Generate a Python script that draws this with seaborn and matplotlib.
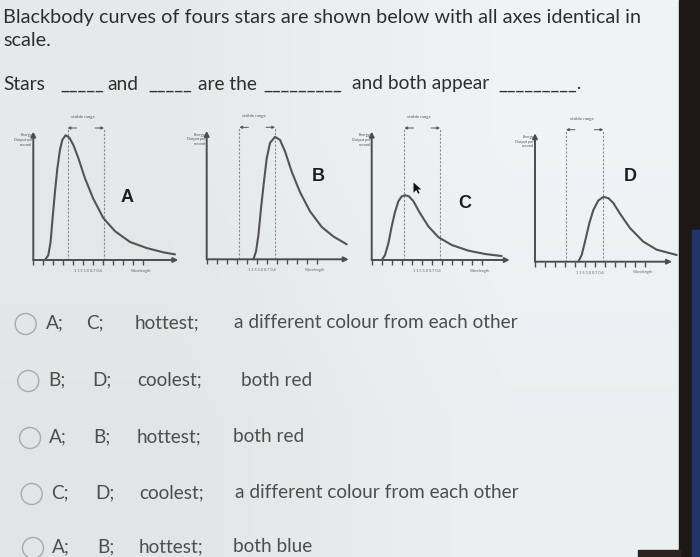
import matplotlib
matplotlib.use("Agg")
import matplotlib.pyplot as plt
import numpy as np
import pandas as pd
import seaborn as sns
from matplotlib.patches import Circle, Rectangle

W, H = 700, 557

# blackbody curves (x: tick units, y: fraction of y-axis height)
STARS = ["A", "B", "C", "D"]
A_WL = [1.17, 1.5, 1.73, 1.93, 2.17, 2.4, 2.67, 2.9, 3.23, 3.6, 4.0, 4.5, 5.17, 6.0,
        7.0, 8.17, 9.67, 11.33, 13.0, 14.17]
A_EN = [0.0, 0.04, 0.15, 0.35, 0.57, 0.76, 0.92, 1.0, 1.04, 1.02, 0.96, 0.85, 0.68, 0.51,
        0.35, 0.24, 0.15, 0.10, 0.064, 0.047]
B_WL = [4.67, 4.93, 5.17, 5.43, 5.73, 6.0, 6.33, 6.83, 7.33, 7.83, 8.5, 9.33, 10.33,
        11.5, 12.67, 14.0]
B_EN = [0.0, 0.065, 0.20, 0.425, 0.65, 0.84, 0.97, 1.02, 0.995, 0.90, 0.73, 0.56, 0.40,
        0.27, 0.19, 0.125]
C_WL = [1.0, 1.33, 1.67, 2.0, 2.33, 2.67, 3.0, 3.33, 3.73, 4.17, 4.83, 5.67, 6.67, 8.0,
        9.67, 11.33, 13.0]
C_EN = [0.0, 0.04, 0.14, 0.28, 0.40, 0.49, 0.53, 0.54, 0.53, 0.49, 0.39, 0.28, 0.19,
        0.125, 0.078, 0.05, 0.033]
D_WL = [4.33, 4.67, 5.0, 5.43, 5.83, 6.33, 6.83, 7.33, 7.83, 8.5, 9.5, 10.83, 12.17, 14.17]
D_EN = [0.0, 0.056, 0.167, 0.32, 0.43, 0.51, 0.54, 0.53, 0.49, 0.40, 0.28, 0.167, 0.10,
        0.056]
VIS_LO = [3.43, 3.27, 3.27, 3.1]
VIS_HI = [7.07, 6.83, 6.83, 6.83]
TICKS = list(range(12))
TICK_TEXT = "1 1.5 1.0 0.7 0.4"
XLABEL = "Wavelength"
YLABEL = "Energy\nOutput per\nsecond"
VIS_LABEL = "visible range"

QUESTION_1 = "Blackbody curves of fours stars are shown below with all axes identical in"
QUESTION_2 = "scale."
BLANK_LINE = ["Stars", "_____", "and", "_____", "are the", "_________", "and both appear", "_________."]

OPT_FIRST = ["A;", "B;", "A;", "C;", "A;"]
OPT_SECOND = ["C;", "D;", "B;", "D;", "B;"]
OPT_TEMP = ["hottest;", "coolest;", "hottest;", "coolest;", "hottest;"]
OPT_COLOUR = ["a different colour from each other", "both red", "both red",
              "a different colour from each other", "both blue"]

df = pd.concat([
    pd.DataFrame({"star": s, "wavelength": wl, "energy": en})
    for s, wl, en in zip(STARS, [A_WL, B_WL, C_WL, D_WL], [A_EN, B_EN, C_EN, D_EN])
])

# layout (pixels)
ORIGINS = [(33.3, 260), (206.7, 259.3), (371.7, 260), (535, 261.7)]
XEND = [14.5, 14.2, 13.8, 13.7]
LETTER_POS = [(9.4, 0.525), (11.2, 0.69), (9.33, 0.47), (9.5, 0.71)]
UX, UY = 10, 120
X_LO, X_HI, Y_LO, Y_HI = -1.0, 15.5, -0.25, 1.35

CURVE = "#555353"
AXIS = "#4d4d4d"
DASH = "#8c8c8c"
TXT = "#2f2f2f"
OPT_TXT = "#4e4e4e"

sns.set_theme(style="white")
plt.rcParams["font.family"] = ["Lato", "DejaVu Sans"]

fig = plt.figure(figsize=(W / 100, H / 100), dpi=100)
bg = fig.add_axes([0, 0, 1, 1])
bg.set_xlim(0, W)
bg.set_ylim(H, 0)
bg.axis("off")

grad = np.array([[[0.90, 0.915, 0.915], [0.935, 0.955, 0.96]],
                 [[0.885, 0.90, 0.90], [0.92, 0.94, 0.945]]])
bg.imshow(grad, extent=[0, 680, H, 0], aspect="auto", interpolation="bilinear", zorder=0)
bg.add_patch(Rectangle((679, 0), 21, H, color="#1d1816", zorder=1))
bg.add_patch(Rectangle((692, 230), 8, H - 230, color="#22346c", zorder=1))
bg.add_patch(Rectangle((638, 550), 42, 7, color="#2a2220", zorder=1))

# question text
bg.text(3, 17, QUESTION_1, fontsize=14.3, color=TXT, va="center", ha="left")
bg.text(3, 40, QUESTION_2, fontsize=14.3, color=TXT, va="center", ha="left")
for x, s in zip([3, 60, 107, 148, 198, 263, 352, 498], BLANK_LINE):
    bg.text(x, 84, s, fontsize=13.8, color=TXT, va="center", ha="left")

# answer options
ROW_Y = [324, 381, 438, 494, 548]
CIRCLE_X = [25.7, 28.3, 30, 31.7, 33]
COL_X = [[45.7, 86, 135, 234], [48, 92, 137, 241], [49, 93, 137, 233],
         [51, 95, 139, 235], [52, 97, 139, 233]]
for i, y in enumerate(ROW_Y):
    bg.add_patch(Circle((CIRCLE_X[i], y), 10.5, fill=False, ec="#a9abab", lw=1.0, zorder=2))
    for x, s in zip(COL_X[i], [OPT_FIRST[i], OPT_SECOND[i], OPT_TEMP[i], OPT_COLOUR[i]]):
        bg.text(x, y - 1, s, fontsize=13.7, color=OPT_TXT, va="center", ha="left")

# the four small blackbody panels
for i, star in enumerate(STARS):
    ox, oy = ORIGINS[i]
    left = ox + X_LO * UX
    top = oy - Y_HI * UY
    w = (X_HI - X_LO) * UX
    h = (Y_HI - Y_LO) * UY
    ax = fig.add_axes([left / W, 1 - (top + h) / H, w / W, h / H])
    ax.patch.set_alpha(0)
    ax.set_xlim(X_LO, X_HI)
    ax.set_ylim(Y_LO, Y_HI)

    sns.lineplot(data=df[df["star"] == star], x="wavelength", y="energy", ax=ax,
                 color=CURVE, lw=1.5, estimator=None, zorder=4)
    ax.set(xlabel="", ylabel="")

    for s in ax.spines.values():
        s.set_visible(False)
    ax.spines["bottom"].set_position(("data", 0))
    ax.set_xticks(TICKS)
    ax.set_xticklabels([])
    ax.set_yticks([])
    ax.tick_params(axis="x", bottom=True, direction="out", length=3.5, width=1.0, color=AXIS)

    arrow = dict(arrowstyle="-|>", color=AXIS, lw=1.4, mutation_scale=7, shrinkA=0, shrinkB=0)
    ax.annotate("", xy=(XEND[i], 0), xytext=(0, 0), arrowprops=arrow, zorder=3)
    ax.annotate("", xy=(0, 1.07), xytext=(0, 0), arrowprops=arrow, zorder=3)

    lo, hi = VIS_LO[i], VIS_HI[i]
    ax.vlines([lo, hi], 0, 1.1, colors=DASH, linestyles=(0, (2, 1.5)), lw=0.8, zorder=2)
    small = dict(arrowstyle="-|>", color="#555", lw=0.7, mutation_scale=4, shrinkA=0, shrinkB=0)
    ax.annotate("", xy=(lo, 1.1), xytext=(lo + 0.9, 1.1), arrowprops=small)
    ax.annotate("", xy=(hi, 1.1), xytext=(hi - 0.9, 1.1), arrowprops=small)
    ax.text((lo + hi) / 2 - 0.3, 1.19, VIS_LABEL, fontsize=3.2, color="#555",
            ha="center", va="center")

    ax.text(-0.1, 1.0, YLABEL, fontsize=2.8, color="#555", ha="right", va="center",
            linespacing=1.2)
    ax.text(5.5, -0.09, TICK_TEXT, fontsize=2.8, color="#666", ha="center", va="center")
    ax.text(10.8, -0.09, XLABEL, fontsize=2.8, color="#666", ha="center", va="center")

    lx, ly = LETTER_POS[i]
    ax.text(lx, ly, star, fontsize=13, fontweight="bold", color="#1e1e1e",
            family=["Liberation Sans", "DejaVu Sans"], ha="center", va="center")

    if star == "C":
        pointer = [(0, 0), (0, -1.0), (0.27, -0.74), (0.45, -1.1), (0.6, -1.03),
                   (0.42, -0.68), (0.76, -0.68), (0, 0)]
        ax.scatter([4.16], [0.65], marker=pointer, s=260, color="#111", lw=0, zorder=6)

fig.savefig("out.png", dpi=100)
